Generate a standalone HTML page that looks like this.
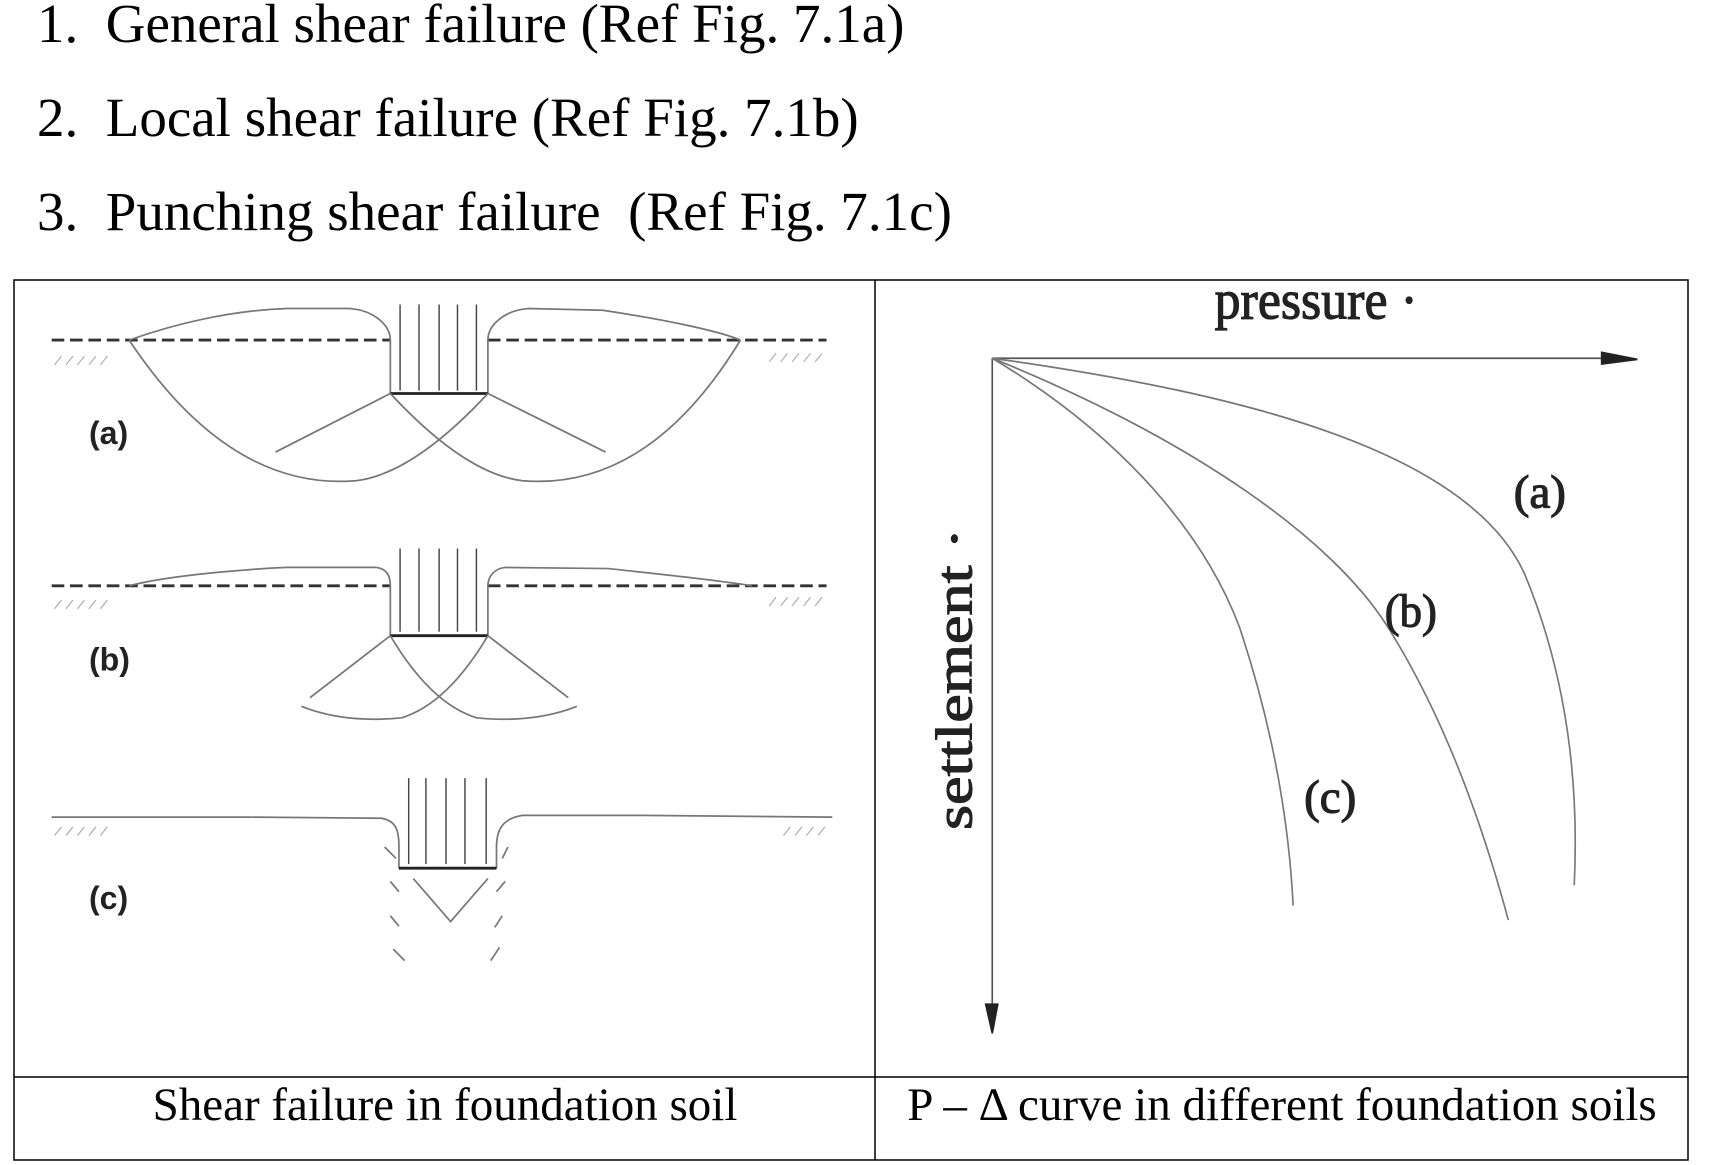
<!DOCTYPE html>
<html><head><meta charset="utf-8"><style>
html,body{margin:0;padding:0;background:#fff;}
body{width:1722px;height:1165px;position:relative;overflow:hidden;font-family:"Liberation Serif",serif;}
.l{position:absolute;left:37px;font-size:55px;color:#000;white-space:pre;}
svg{position:absolute;left:0;top:0;}
</style></head><body>
<div class="l" style="top:-8px">1.  General shear failure (Ref Fig. 7.1a)</div>
<div class="l" style="top:86px">2.  Local shear failure (Ref Fig. 7.1b)</div>
<div class="l" style="top:180px">3.  Punching shear failure  (Ref Fig. 7.1c)</div>
<svg width="1722" height="1165" viewBox="0 0 1722 1165">
<g fill="none" stroke="#000" stroke-width="1.5">
<rect x="14" y="280" width="1674" height="880"/>
<line x1="875" y1="280" x2="875" y2="1160"/>
<line x1="14" y1="1077" x2="1688" y2="1077"/>
</g>
<text x="445" y="1120" font-size="47" text-anchor="middle" font-family="Liberation Serif">Shear failure in foundation soil</text>
<text x="1282" y="1120" font-size="47" text-anchor="middle" font-family="Liberation Serif">P – Δ curve in different foundation soils</text>
<!-- left diagram in zoom1 coords -->
<g transform="translate(0,250) scale(0.574)" fill="none" stroke="#777" stroke-width="3">
<line x1="90" y1="157" x2="680" y2="157" stroke="#333" stroke-width="5" stroke-dasharray="22,10"/>
<line x1="850" y1="157" x2="1440" y2="157" stroke="#333" stroke-width="5" stroke-dasharray="22,10"/>
<path d="M225,157 C300,130 400,105 500,102 L610,102 C650,105 680,130 680,157 L680,250"/>
<path d="M850,250 L850,157 C850,130 880,105 920,102 L1050,105 C1150,120 1250,140 1290,157"/>
<line x1="680" y1="250" x2="850" y2="250" stroke="#222" stroke-width="5"/>
<path d="M225,157 Q400,420 620,402 Q720,390 850,250"/>
<path d="M1290,157 Q1130,420 910,402 Q810,390 680,250"/>
<path d="M680,250 L480,352 M850,250 L1055,352"/>
<g stroke="#444" stroke-width="2.5"><path d="M697,95V245M730,95V245M765,95V245M797,95V245M830,95V245"/></g>
<line x1="90" y1="585" x2="680" y2="585" stroke="#333" stroke-width="5" stroke-dasharray="22,10"/>
<line x1="850" y1="585" x2="1440" y2="585" stroke="#333" stroke-width="5" stroke-dasharray="22,10"/>
<path d="M225,585 C300,565 450,555 500,553 L655,553 C675,555 680,570 680,585 L680,672"/>
<path d="M850,672 L850,585 C850,570 860,555 880,553 L1060,555 C1150,565 1250,575 1310,585"/>
<line x1="680" y1="672" x2="850" y2="672" stroke="#222" stroke-width="5"/>
<path d="M680,672 L540,780 M850,672 L990,780"/>
<path d="M525,795 Q600,825 700,815 Q780,790 850,672"/>
<path d="M1005,795 Q930,825 830,815 Q750,790 680,672"/>
<g stroke="#444" stroke-width="2.5"><path d="M697,520V665M730,520V665M765,520V665M797,520V665M830,520V665"/></g>
<path d="M90,988 L430,988 L665,990 C690,995 695,1010 695,1040 L695,1077"/>
<path d="M865,1077 L865,1040 C865,1005 880,990 910,985 L1120,985 L1450,988"/>
<line x1="695" y1="1077" x2="865" y2="1077" stroke="#222" stroke-width="5"/>
<path d="M720,1095 L785,1170 L850,1095"/>
<path d="M670,1040 L690,1060 M885,1040 L875,1060 M680,1100 L695,1118 M680,1160 L695,1178 M685,1218 L705,1238 M880,1100 L865,1118 M875,1160 L862,1180 M870,1215 L855,1238"/>
<g stroke="#444" stroke-width="2.5"><path d="M712,920V1070M742,920V1070M777,920V1070M810,920V1070M847,920V1070"/></g>
<g stroke="#aaa" stroke-width="2"><path d="M95,200l12,-15M115,200l12,-15M135,200l12,-15M155,200l12,-15M175,200l12,-15M1340,195l12,-15M1360,195l12,-15M1380,195l12,-15M1400,195l12,-15M1420,195l12,-15
M95,625l12,-15M115,625l12,-15M135,625l12,-15M155,625l12,-15M175,625l12,-15M1340,620l12,-15M1360,620l12,-15M1380,620l12,-15M1400,620l12,-15M1420,620l12,-15
M95,1020l12,-15M115,1020l12,-15M135,1020l12,-15M155,1020l12,-15M175,1020l12,-15M1365,1020l12,-15M1385,1020l12,-15M1405,1020l12,-15M1425,1020l12,-15"/></g>
<g fill="#222" stroke="none" font-family="Liberation Sans" font-weight="bold" font-size="56">
<text x="155" y="338">(a)</text><text x="155" y="733">(b)</text><text x="155" y="1148">(c)</text></g>
</g>
<!-- right diagram -->
<g transform="translate(866,249) scale(0.549,0.581)" fill="none" stroke="#777" stroke-width="3">
<line x1="230" y1="188" x2="1370" y2="188" stroke="#555"/>
<path d="M1340,178 L1405,190 L1340,198 Z" fill="#222" stroke="#222"/>
<line x1="230" y1="188" x2="230" y2="1320" stroke="#555"/>
<path d="M218,1300 L230,1350 L240,1300 Z" fill="#222" stroke="#222"/>
<path d="M230,188 C700,250 1100,350 1200,560 C1270,720 1300,900 1290,1095"/>
<path d="M230,188 C600,330 850,500 950,650 C1050,800 1120,980 1170,1155"/>
<path d="M230,188 C480,330 620,500 680,650 C740,820 770,980 778,1130"/>
<g fill="#222" stroke="#222" stroke-width="2" font-family="Liberation Serif" font-size="80">
<text x="1180" y="445" textLength="95" lengthAdjust="spacingAndGlyphs">(a)</text>
<text x="945" y="650" textLength="95" lengthAdjust="spacingAndGlyphs">(b)</text>
<text x="798" y="970" textLength="95" lengthAdjust="spacingAndGlyphs">(c)</text>
<text x="635" y="120" font-size="95" textLength="370" lengthAdjust="spacingAndGlyphs">pressure ·</text>
<text transform="translate(192,1000) rotate(-90)" font-size="95" textLength="520" lengthAdjust="spacingAndGlyphs">settlement ·</text>
</g>
</g>
</svg>
</body></html>
